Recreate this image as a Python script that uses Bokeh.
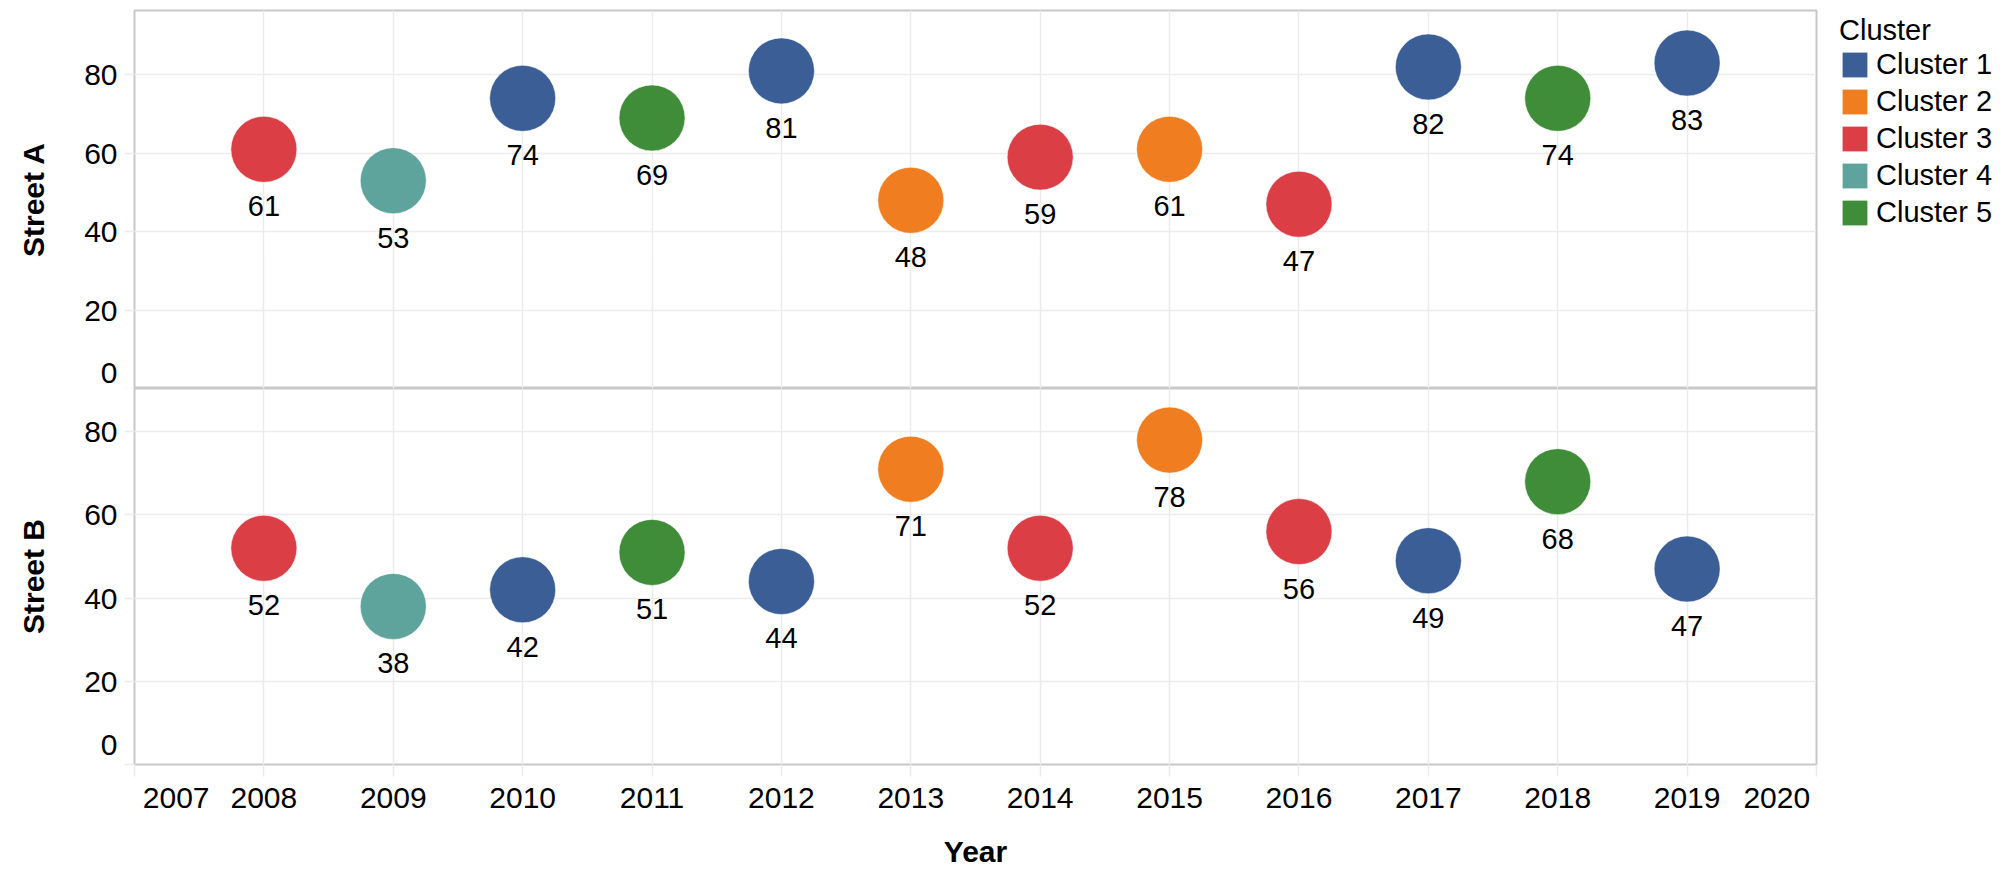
from bokeh.plotting import figure
from bokeh.models import (Range1d, LinearAxis, FixedTicker, Grid, ColumnDataSource,
                          Legend, LegendItem)
from bokeh.layouts import row, column
from bokeh.transform import factor_cmap
from bokeh.core.properties import value
from bokeh.embed import file_html
from bokeh.resources import INLINE

# ---------------- data ----------------
years = [2008, 2009, 2010, 2011, 2012, 2013, 2014, 2015, 2016, 2017, 2018, 2019]
street_a = [61, 53, 74, 69, 81, 48, 59, 61, 47, 82, 74, 83]
cluster_a = ["Cluster 3", "Cluster 4", "Cluster 1", "Cluster 5", "Cluster 1", "Cluster 2",
             "Cluster 3", "Cluster 2", "Cluster 3", "Cluster 1", "Cluster 5", "Cluster 1"]
street_b = [52, 38, 42, 51, 44, 71, 52, 78, 56, 49, 68, 47]
cluster_b = ["Cluster 3", "Cluster 4", "Cluster 1", "Cluster 5", "Cluster 1", "Cluster 2",
             "Cluster 3", "Cluster 2", "Cluster 3", "Cluster 1", "Cluster 5", "Cluster 1"]
clusters = ["Cluster 1", "Cluster 2", "Cluster 3", "Cluster 4", "Cluster 5"]
colors = ["#3a5e95", "#f07d1f", "#dc3e46", "#5ea49c", "#3f8d39"]
y_ticks = [0, 20, 40, 60, 80]
x_ticks = [2007] + years + [2020]
row_labels = ["Street A", "Street B"]

# ---------------- style ----------------
FONT = "Liberation Sans"
BORDER = "#c8c8c8"
GRID = "#ececec"
NBSP = "\u00a0"
X_START, X_END = 2007, 2020
YA_END, YB_END = 96.4, 90.4

xr = Range1d(X_START, X_END)
xticker = FixedTicker(ticks=x_ticks)


def rule_axis(bounds):
    """An axis that only draws its rule (used for Tableau-like header borders)."""
    return LinearAxis(ticker=FixedTicker(ticks=[]), bounds=bounds,
                      axis_line_color=BORDER, axis_line_width=2,
                      major_tick_in=0, major_tick_out=0, minor_tick_in=0, minor_tick_out=0,
                      major_label_standoff=0, major_label_text_font_size="0px",
                      axis_label=None)


def make_panel(label, vals, clus, y_end, height, top_b, bottom_b, show_x):
    p = figure(width=1818, height=height, x_range=xr, y_range=Range1d(0, y_end),
               output_backend="svg", toolbar_location=None,
               x_axis_type=None, y_axis_type=None,
               min_border_left=134, min_border_right=2,
               min_border_top=top_b, min_border_bottom=bottom_b,
               outline_line_color=BORDER, outline_line_width=2)
    if show_x:
        # vertical borders continuing down through the axis area
        p.add_layout(rule_axis((-60, 0)), "left")
        p.add_layout(rule_axis((-60, 0)), "right")
        # header border line at the bottom, left of the frame
        p.add_layout(rule_axis((X_START - 1.2, X_START)), "below")
        zero_label = {0: "0\n"}
    else:
        p.add_layout(rule_axis((X_START - 1.2, X_START)), "above")
        p.add_layout(rule_axis((X_START - 1.2, X_START)), "below")
        zero_label = {0: "\n0"}

    yax = LinearAxis(ticker=FixedTicker(ticks=y_ticks), axis_label=label,
                     major_label_overrides=zero_label,
                     axis_line_color=None, major_tick_line_color=GRID,
                     major_tick_line_width=1.5, major_tick_in=0, major_tick_out=10,
                     minor_tick_line_color=None, major_label_standoff=7,
                     major_label_text_font=FONT, major_label_text_font_size="30px",
                     major_label_text_color="black",
                     axis_label_text_font=FONT, axis_label_text_font_size="30px",
                     axis_label_text_font_style="bold", axis_label_text_color="black",
                     axis_label_standoff=31)
    p.add_layout(yax, "left")
    p.add_layout(Grid(dimension=1, ticker=yax.ticker, grid_line_color=GRID,
                      grid_line_width=1.5))
    p.add_layout(Grid(dimension=0, ticker=xticker, grid_line_color=GRID,
                      grid_line_width=1.5))

    src = ColumnDataSource(dict(year=years, val=vals, cluster=clus,
                                txt=[str(v) for v in vals]))
    p.scatter(x="year", y="val", source=src, size=66, marker="circle",
              fill_color=factor_cmap("cluster", colors, clusters),
              line_color="white", line_alpha=0.5, line_width=1)
    p.text(x="year", y="val", text="txt", source=src, y_offset=57,
           text_align="center", text_baseline="middle", text_color="black",
           text_font=value(FONT), text_font_size="29px")

    if show_x:
        xax = LinearAxis(ticker=xticker, axis_label="Year",
                         major_label_overrides={2007: NBSP * 10 + "2007",
                                                2020: "2020" + NBSP},
                         axis_line_color=None, major_tick_line_color=GRID,
                         major_tick_line_width=1.5, major_tick_in=0, major_tick_out=12,
                         minor_tick_line_color=None, major_label_standoff=4,
                         major_label_text_font=FONT, major_label_text_font_size="30px",
                         major_label_text_color="black",
                         axis_label_text_font=FONT, axis_label_text_font_size="30px",
                         axis_label_text_font_style="bold", axis_label_text_color="black",
                         axis_label_standoff=18)
        p.add_layout(xax, "below")
    return p


pA = make_panel(row_labels[0], street_a, cluster_a, YA_END, 388, 10, 0, False)
pB = make_panel(row_labels[1], street_b, cluster_b, YB_END, 489, 0, 113, True)

# ---------------- legend ----------------
pl = figure(width=182, height=877, x_range=Range1d(0, 1), y_range=Range1d(0, 1),
            output_backend="svg", toolbar_location=None,
            x_axis_type=None, y_axis_type=None,
            min_border_left=21, min_border_top=14, min_border_right=0, min_border_bottom=0,
            outline_line_color=None)
nan = float("nan")
lsrc = ColumnDataSource(dict(l=[nan] * 5, r=[nan] * 5, t=[nan] * 5, b=[nan] * 5,
                             color=colors, name=clusters))
swatch = pl.quad(left="l", right="r", top="t", bottom="b", source=lsrc,
                 fill_color="color", line_color=None)
items = [LegendItem(label=c, renderers=[swatch], index=i) for i, c in enumerate(clusters)]
legend = Legend(items=items, title="Cluster", location="top_left", margin=0, padding=0,
                border_line_color=None, background_fill_alpha=0,
                glyph_width=31, glyph_height=31, label_height=31, label_standoff=6,
                spacing=4, title_standoff=1,
                label_text_font=FONT, label_text_font_size="29px", label_text_color="black",
                title_text_font=FONT, title_text_font_size="29px",
                title_text_font_style="normal", title_text_color="black")
pl.add_layout(legend)

layout = row(column(pA, pB), pl)

with open("out.html", "w") as f:
    f.write(file_html(layout, INLINE, title="Clusters by year"))
